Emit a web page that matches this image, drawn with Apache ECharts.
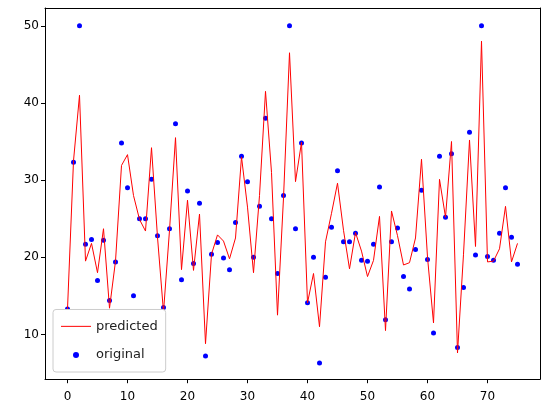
<!DOCTYPE html><html><head><script src="https://cdn.jsdelivr.net/npm/echarts@6/dist/echarts.min.js"></script></head><body style="margin:0"><div id="c" style="width:550px;height:409px"></div><script>
const original=[13.3,32.3,50,21.7,22.3,17,22.2,14.4,19.4,34.8,29,15,25,25,30.1,22.8,13.5,23.7,37.3,17.1,28.6,19.2,27,7.2,20.4,21.9,19.9,18.4,24.5,33.1,29.8,20,26.6,38,25,17.9,28,50,23.7,34.8,14.1,20,6.3,17.4,23.9,31.2,22,22,23.1,19.6,19.5,21.7,29.1,11.9,22,23.8,17.5,15.9,21,28.7,19.7,10.2,33.1,25.2,33.4,8.3,16.1,36.2,20.3,50,20.1,19.6,23.1,29,22.6,19.1];
const predicted=[13.3,32.5,41,19.5,21.8,18,23.7,13.4,19.5,31.9,33.3,28,24.9,23.4,34.2,22.6,12.9,23.5,35.5,18.4,27.4,18.3,25.6,8.8,20.4,22.9,22.1,19.8,22.5,33,26.5,18,28,41.5,31,12.5,27.7,46.5,29.8,34.9,14.1,17.9,11,22,25.7,29.6,23.5,18.5,23.2,20.8,17.5,19.6,25.3,10.5,26,22.8,19,19.3,22.5,32.7,20,11.5,30.1,25.2,35,7.6,20.4,35.2,21.4,48,19.4,19.5,21.1,26.6,19.4,21.8];
const xTicks=[0,10,20,30,40,50,60,70];
const yTicks=[10,20,30,40,50];
const ch=echarts.init(document.getElementById('c'));
const line={show:true,onZero:false,lineStyle:{color:'#000',width:1}};
const lab={color:'#000',fontSize:12,fontFamily:'DejaVu Sans'};
ch.setOption({animation:false,
grid:{left:45,right:10,top:8,bottom:21},
xAxis:[{type:'value',min:-3.75,max:78.75,axisLine:line,splitLine:{show:false},axisTick:{show:true,length:4,customValues:xTicks,lineStyle:{color:'#000'}},axisLabel:Object.assign({customValues:xTicks,margin:6},lab)},
{type:'value',position:'top',min:-3.75,max:78.75,axisLine:line,splitLine:{show:false},axisTick:{show:false},axisLabel:{show:false}}],
yAxis:[{type:'value',min:4.2,max:52.3,axisLine:line,splitLine:{show:false},axisTick:{show:true,length:4,customValues:yTicks,lineStyle:{color:'#000'}},axisLabel:Object.assign({customValues:yTicks,margin:6},lab)},
{type:'value',position:'right',min:4.2,max:52.3,axisLine:line,splitLine:{show:false},axisTick:{show:false},axisLabel:{show:false}}],
legend:{left:53,bottom:37,orient:'vertical',itemGap:3,itemWidth:30,itemHeight:6,backgroundColor:'#fff',borderColor:'#ccc',borderWidth:1,borderRadius:3,padding:[4,8,4,8],textStyle:{fontSize:13,fontFamily:'DejaVu Sans',color:'#222',lineHeight:14,height:14},
data:[{name:'predicted',icon:'path://M0,0L30,0L30,1L0,1Z'},{name:'original',icon:'circle'}]},
series:[
{name:'predicted',type:'line',data:predicted.map((v,i)=>[i,v]),symbol:'none',lineStyle:{color:'red',width:1},itemStyle:{color:'red'}},
{name:'original',type:'scatter',data:original.map((v,i)=>[i,v]),symbolSize:5,itemStyle:{color:'blue',opacity:1}}
]});
</script></body></html>
